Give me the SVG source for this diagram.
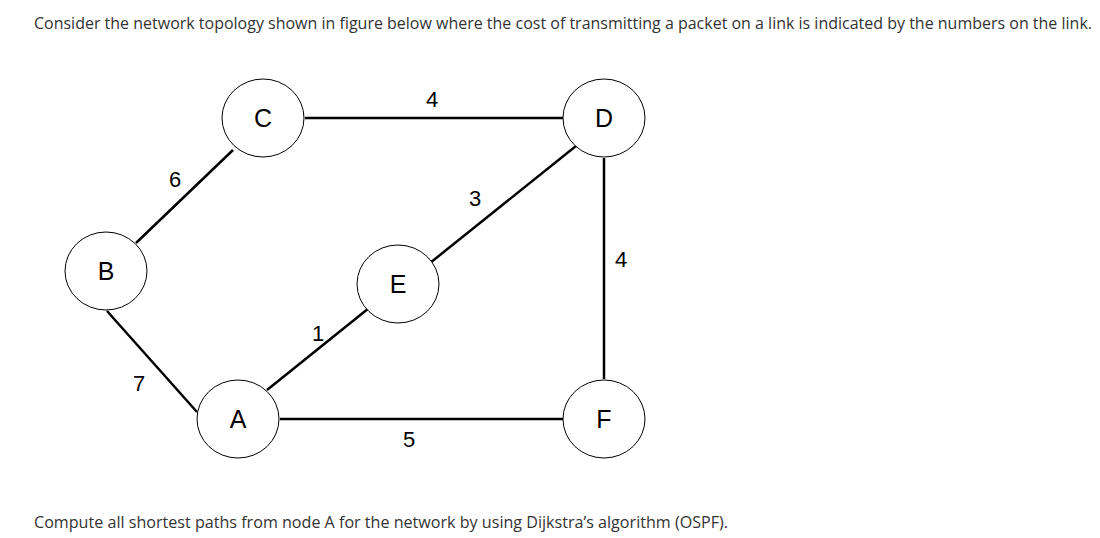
<svg xmlns="http://www.w3.org/2000/svg" width="1100" height="538" viewBox="0 0 1100 538">
<style>
.n{fill:#fff;stroke:#000;stroke-width:1}
.t{font-family:"Open Sans","Liberation Sans",sans-serif;font-size:15.5px;fill:#333}
.l{font-family:"Liberation Sans",sans-serif;font-size:22px;fill:#000;text-anchor:middle}
.k{font-family:"Liberation Sans",sans-serif;font-size:25px;fill:#000;text-anchor:middle}
.e{stroke:#000;stroke-width:2.5;fill:none}
</style>
<rect width="1100" height="538" fill="#fff"/>
<text class="t" x="34" y="29" textLength="1058" lengthAdjust="spacingAndGlyphs">Consider the network topology shown in figure below where the cost of transmitting a packet on a link is indicated by the numbers on the link.</text>
<g id="connectors">
<line class="e" x1="305" y1="118" x2="563" y2="118"/>
<line class="e" x1="233" y1="150" x2="136" y2="243"/>
<line class="e" x1="576" y1="146" x2="430" y2="263"/>
<line class="e" x1="604" y1="158" x2="604" y2="379"/>
<line class="e" x1="107" y1="311" x2="197" y2="412"/>
<line class="e" x1="369" y1="308" x2="267" y2="390"/>
<line class="e" x1="280" y1="419" x2="563" y2="419"/>
<text class="l" x="432" y="107">4</text>
<text class="l" x="175" y="187">6</text>
<text class="l" x="475" y="206">3</text>
<text class="l" x="621" y="267">4</text>
<text class="l" x="139" y="391">7</text>
<text class="l" x="318" y="341">1</text>
<text class="l" x="409" y="447">5</text>
</g>
<g id="C"><ellipse class="n" cx="263" cy="118" rx="41" ry="39"/><text class="k" x="263" y="127">C</text></g>
<g id="D"><ellipse class="n" cx="604" cy="118" rx="41" ry="39"/><text class="k" x="604" y="127">D</text></g>
<g id="B"><ellipse class="n" cx="106" cy="271" rx="41" ry="39"/><text class="k" x="106" y="280">B</text></g>
<g id="E"><ellipse class="n" cx="398" cy="284" rx="41" ry="39"/><text class="k" x="398" y="293">E</text></g>
<g id="A"><ellipse class="n" cx="238" cy="419" rx="41" ry="39"/><text class="k" x="238" y="428">A</text></g>
<g id="F"><ellipse class="n" cx="604" cy="419" rx="41" ry="39"/><text class="k" x="604" y="428">F</text></g>
<text class="t" x="34" y="528" textLength="694" lengthAdjust="spacingAndGlyphs">Compute all shortest paths from node A for the network by using Dijkstra’s algorithm (OSPF).</text>
</svg>
